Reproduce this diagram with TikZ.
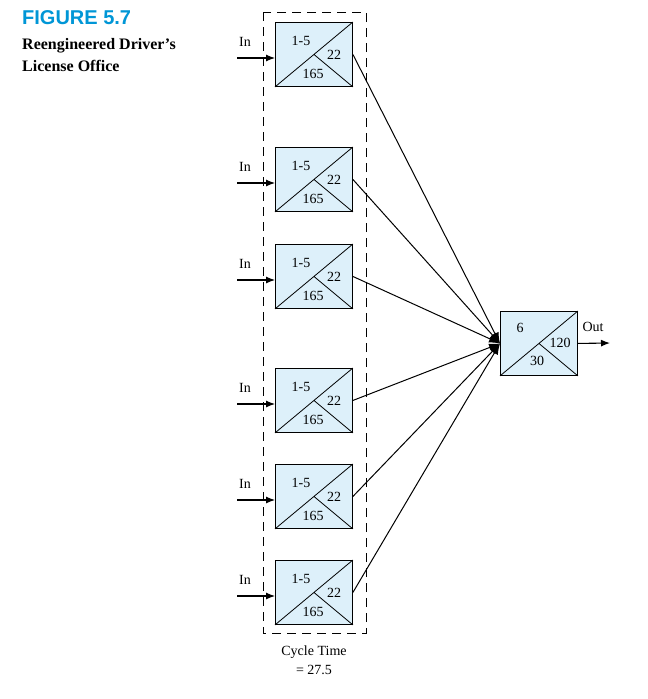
\documentclass[tikz,border=0pt]{standalone}
\usepackage{fontspec}
\setmainfont{Liberation Serif}
\newfontfamily\hsans{Liberation Sans}
\usetikzlibrary{arrows.meta}
\definecolor{boxfill}{RGB}{221,240,250}
\definecolor{figblue}{RGB}{0,150,214}
\begin{document}
\begin{tikzpicture}[x=1pt,y=-1pt,
  box/.style={draw,fill=boxfill,line width=0.9pt,minimum width=77pt,minimum height=64pt,inner sep=0pt,anchor=north west},
  lbl/.style={font=\fontsize{14}{16}\selectfont,inner sep=0pt},
  arr/.style={-{Latex[length=9pt,width=7pt]},line width=1.1pt},
  conn/.style={-{Latex[length=11pt,width=8pt]},line width=1pt}]
\useasboundingbox (0,0) rectangle (648,699);
\node[anchor=west,inner sep=0pt,font=\hsans\bfseries\fontsize{20}{22}\selectfont,text=figblue] (t1) at (22,18) {FIGURE 5.7};
\node[anchor=west,inner sep=0pt,font=\bfseries\fontsize{16}{18}\selectfont] (t2) at (22,46) {Reengineered Driver’s};
\node[anchor=west,inner sep=0pt,font=\bfseries\fontsize{16}{18}\selectfont] (t3) at (22,66) {License Office};
\draw[dash pattern=on 9pt off 6pt,line width=1pt] (263,12) rectangle (366,633);
\node[lbl] (ct1) at (314,652) {Cycle Time};
\node[lbl] (ct2) at (314,670) {= 27.5};
% output box
\node[box] (o) at (500,311) {};
\draw[line width=0.8pt] (o.south west) -- (o.north east) (o.center) -- (o.south east);
\node[lbl] (o1) at (520,328) {6};
\node[lbl] (o2) at (560,343) {120};
\node[lbl] (o3) at (537,361) {30};
\coordinate (oe) at (610,343);
\draw[arr] (o.east) -- (oe);
\node[lbl] (out) at (593,327) {Out};
\foreach \i/\t in {1/22,2/147,3/244,4/368,5/464,6/560}{
  \node[box] (b\i) at (275,\t) {};
  \draw[line width=0.8pt] (b\i.south west) -- (b\i.north east) (b\i.center) -- (b\i.south east);
  \node[lbl] (b\i a) at (301,\t+19) {1-5};
  \node[lbl] (b\i b) at (334,\t+33) {22};
  \node[lbl] (b\i c) at (313,\t+52) {165};
  \node[lbl] (in\i) at (245,\t+20) {In};
  \coordinate (s\i) at (237,\t+36);
  \draw[arr] (s\i) -- (b\i.west |- s\i);
  \draw[conn] (b\i.east) -- (o.west);
}
\end{tikzpicture}
\end{document}
